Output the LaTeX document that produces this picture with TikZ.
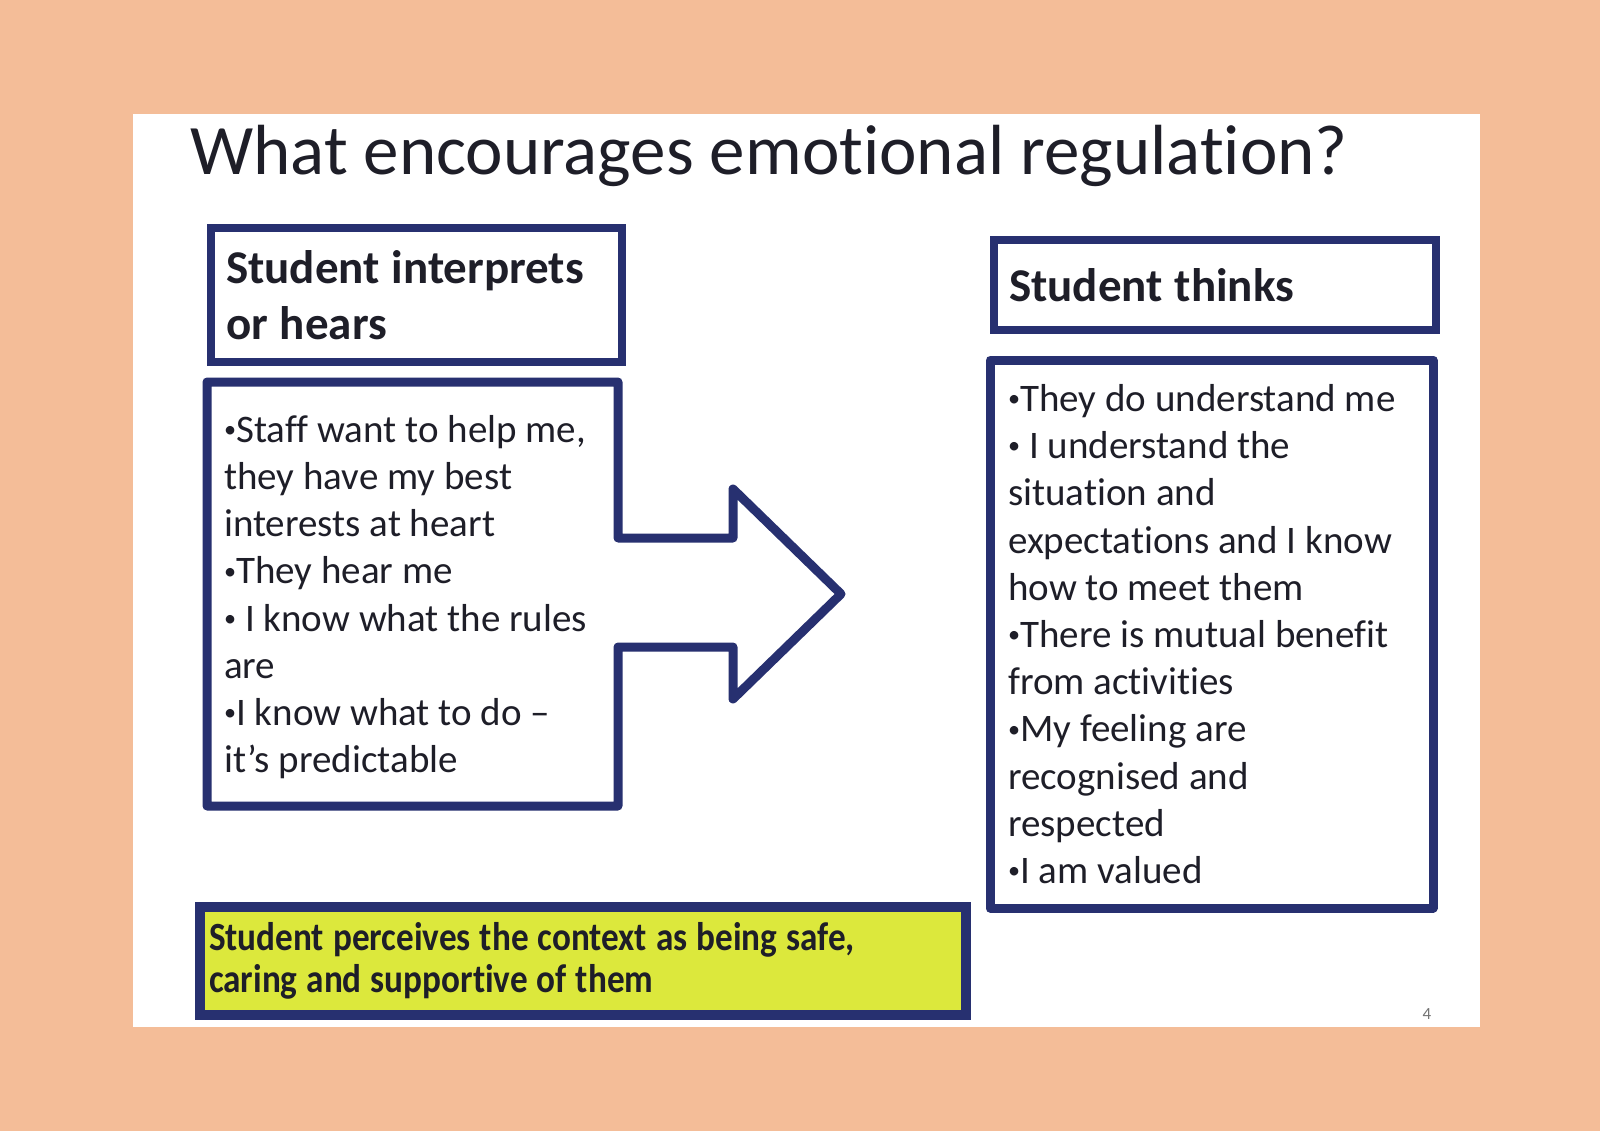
\documentclass[tikz,border=0pt]{standalone}
\usepackage{fontspec}
\setmainfont{Carlito}[Ligatures=NoCommon]
\newfontfamily\condfont[FakeStretch=0.88, Ligatures=NoCommon]{Carlito}
\usetikzlibrary{positioning,shadows}

\definecolor{peach}{HTML}{F4BD98}
\definecolor{navy}{HTML}{273070}
\definecolor{slideyellow}{HTML}{DCE83C}
\definecolor{inktext}{HTML}{1E1E28}

\newcommand{\bul}{\raisebox{0.12em}{\scalebox{0.62}{•}}}
\newcommand{\headfont}{\fontsize{47}{56}\selectfont\bfseries}
\newcommand{\contextfont}{\condfont\fontsize{40}{42}\selectfont\bfseries}
\newcommand{\tight}[1]{\spaceskip=#1\relax}

\tikzset{
  boxshadow/.style={drop shadow={shadow xshift=0pt, shadow yshift=-4pt, opacity=0.25}},
  headbox/.style={draw=navy, line width=8pt, fill=white, inner xsep=15pt,
    align=left, anchor=north west, text=inktext, boxshadow, font=\headfont},
  listtext/.style={align=left, inner sep=0pt, anchor=west, text=inktext,
    font=\fontsize{39}{47.2}\selectfont},
  outline/.style={draw=navy, line width=9pt, line join=round, fill=white, boxshadow}
}

\begin{document}
\begin{tikzpicture}[x=1pt,y=-1pt]
    % Background and slide
    \useasboundingbox (0,0) rectangle (1600,1131);
    \fill[peach] (0,0) rectangle (1600,1131);
    \fill[white] (133,114) rectangle (1480,1027);

    % Title
    \node[anchor=base west, inner sep=0pt, text=inktext,
      font=\fontsize{71}{80}\selectfont] (title) at (190,175)
      {What encourages emotional regulation?};

    % Heading boxes
    \node[headbox, text width=381pt, minimum height=134pt] (hearsHead) at (207,224)
      {\tight{12pt}Student interprets\\or hears};
    \node[headbox, text width=412pt, minimum height=90pt] (thinksHead) at (990,236)
      {\tight{12pt}Student thinks};

    % Left list box joined with the arrow
    \coordinate (bl) at (207,806);
    \coordinate (tl) at (207,382);
    \coordinate (tr) at (618,382);
    \coordinate (s1) at (618,538);
    \coordinate (s2) at (733,538);
    \coordinate (h1) at (733,489);
    \coordinate (tip) at (841,594);
    \coordinate (h2) at (733,699);
    \coordinate (s3) at (733,647);
    \coordinate (s4) at (618,647);
    \coordinate (br) at (618,806);
    \draw[outline] (bl) -- (tl) -- (tr) -- (s1) -- (s2) -- (h1) -- (tip)
      -- (h2) -- (s3) -- (s4) -- (br) -- cycle;
    \node[listtext] (hearsList) at (224,597)
      {\bul Staff want to help me,\\they have my best\\interests at heart\\\bul They hear me\\%
       \bul\ I know what the rules\\are\\\bul I know what to do –\\it’s predictable};

    % Right list box
    \draw[outline] (990,360) rectangle (1433,908);
    \node[listtext] (thinksList) at (1008,634)
      {\bul They do understand me\\\bul\ I understand the\\situation and\\%
       expectations and I know\\how to meet them\\\bul There is mutual benefit\\%
       from activities\\\bul My feeling are\\recognised and\\respected\\\bul I am valued};

    % Summary box
    \node[draw=navy, line width=10pt, fill=slideyellow, anchor=north west, boxshadow,
      minimum width=766pt, minimum height=108pt, text width=748pt, inner xsep=9pt,
      align=left, text=inktext, font=\contextfont]
      (context) at (195,902)
      {\tight{9pt}Student perceives the context as being safe,\\caring and supportive of them};

    % Page number
    \node[text=black!55, font=\fontsize{17}{18}\selectfont] (pageno) at (1427,1014) {4};
\end{tikzpicture}
\end{document}
